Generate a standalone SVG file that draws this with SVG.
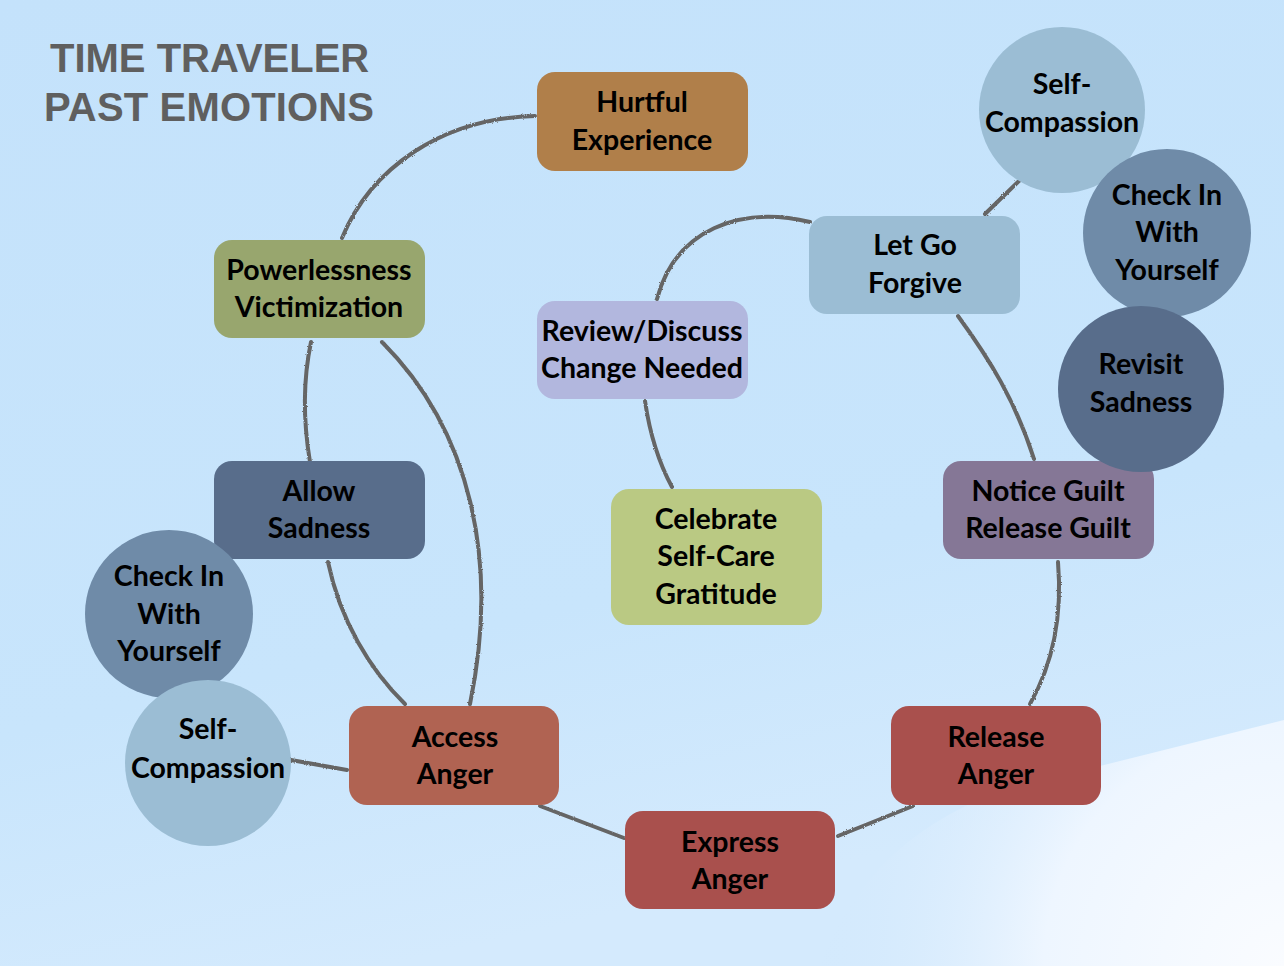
<svg xmlns="http://www.w3.org/2000/svg" width="1284" height="966" viewBox="0 0 1284 966">
<defs>
<linearGradient id="bg" x1="0" y1="0" x2="0.3" y2="1">
<stop offset="0" stop-color="#c4e2fb"/>
<stop offset="0.7" stop-color="#c8e5fc"/>
<stop offset="1" stop-color="#d4eafd"/>
</linearGradient>
<radialGradient id="glow" cx="1284" cy="966" r="480" gradientUnits="userSpaceOnUse">
<stop offset="0" stop-color="#fafcff"/>
<stop offset="0.5" stop-color="#eef6ff"/>
<stop offset="1" stop-color="#cfe7fc" stop-opacity="0"/>
</radialGradient>
<filter id="chalk" x="-10%" y="-10%" width="120%" height="120%">
<feTurbulence type="fractalNoise" baseFrequency="0.9" numOctaves="2" result="n"/>
<feDisplacementMap in="SourceGraphic" in2="n" scale="2.5"/>
</filter>
<style>
.conn path{fill:none;stroke:#656565;stroke-width:4;stroke-linecap:round}
.t{font-family:Lato,"Noto Sans","DejaVu Sans",sans-serif;font-weight:700;font-size:28.5px;fill:#000;text-anchor:middle}
.title{font-family:"Liberation Sans",Arial,sans-serif;font-weight:700;font-size:40px;fill:#5f5f5f}
</style>
</defs>
<rect width="1284" height="966" fill="url(#bg)"/>
<path d="M1100,766 L1284,720 L1284,966 L820,966 Q880,800 1100,766 Z" fill="url(#glow)"/>
<text class="title" x="50" y="72">TIME TRAVELER</text>
<text class="title" x="44" y="121" textLength="330">PAST EMOTIONS</text>
<g class="conn" filter="url(#chalk)">
<path d="M535,116 C440,118 370,170 342,238"/>
<path d="M311,342 C303,380 303,420 310,462"/>
<path d="M382,342 C470,430 500,560 470,704"/>
<path d="M328,562 C340,620 370,670 405,704"/>
<path d="M291,760 L347,770"/>
<path d="M540,806 L624,838"/>
<path d="M838,836 L913,806"/>
<path d="M1030,704 C1055,660 1062,610 1058,562"/>
<path d="M1034,459 C1015,400 990,360 958,316"/>
<path d="M810,222 C740,205 675,230 657,299"/>
<path d="M645,401 C650,435 660,465 672,487"/>
<path d="M985,214 L1020,180"/>
</g>
<g id="hurtful"><rect x="537" y="72" width="211" height="99" rx="18" fill="#b07f4a"/><text class="t" x="642" y="112">Hurtful</text><text class="t" x="642" y="150">Experience</text></g>
<g id="powerlessness"><rect x="214" y="240" width="211" height="98" rx="18" fill="#98a66e"/><text class="t" x="319" y="280">Powerlessness</text><text class="t" x="319" y="317">Victimization</text></g>
<g id="allow-sadness"><rect x="214" y="461" width="211" height="98" rx="18" fill="#586d8b"/><text class="t" x="319" y="501">Allow</text><text class="t" x="319" y="538">Sadness</text></g>
<g id="review"><rect x="537" y="301" width="211" height="98" rx="18" fill="#b2b7de"/><text class="t" x="642" y="341">Review/Discuss</text><text class="t" x="642" y="378">Change Needed</text></g>
<g id="celebrate"><rect x="611" y="489" width="211" height="136" rx="18" fill="#bac983"/><text class="t" x="716" y="529">Celebrate</text><text class="t" x="716" y="566">Self-Care</text><text class="t" x="716" y="604">Gratitude</text></g>
<g id="let-go"><rect x="809" y="216" width="211" height="98" rx="18" fill="#9bbdd4"/><text class="t" x="915" y="255">Let Go</text><text class="t" x="915" y="293">Forgive</text></g>
<g id="notice-guilt"><rect x="943" y="461" width="211" height="98" rx="18" fill="#857796"/><text class="t" x="1048" y="501">Notice Guilt</text><text class="t" x="1048" y="538">Release Guilt</text></g>
<g id="access-anger"><rect x="349" y="706" width="210" height="99" rx="18" fill="#b06352"/><text class="t" x="455" y="747">Access</text><text class="t" x="455" y="784">Anger</text></g>
<g id="express-anger"><rect x="625" y="811" width="210" height="98" rx="18" fill="#a9504d"/><text class="t" x="730" y="852">Express</text><text class="t" x="730" y="889">Anger</text></g>
<g id="release-anger"><rect x="891" y="706" width="210" height="99" rx="18" fill="#a9504d"/><text class="t" x="996" y="747">Release</text><text class="t" x="996" y="784">Anger</text></g>
<g id="self-compassion-top"><circle cx="1062" cy="110" r="83" fill="#9bbdd4"/><text class="t" x="1062" y="94">Self-</text><text class="t" x="1062" y="132">Compassion</text></g>
<g id="check-in-right"><circle cx="1167" cy="233" r="84" fill="#6f8ba8"/><text class="t" x="1167" y="205">Check In</text><text class="t" x="1167" y="242">With</text><text class="t" x="1167" y="280">Yourself</text></g>
<g id="revisit-sadness"><circle cx="1141" cy="389" r="83" fill="#586d8b"/><text class="t" x="1141" y="374">Revisit</text><text class="t" x="1141" y="412">Sadness</text></g>
<g id="check-in-left"><circle cx="169" cy="614" r="84" fill="#6f8ba8"/><text class="t" x="169" y="586">Check In</text><text class="t" x="169" y="624">With</text><text class="t" x="169" y="661">Yourself</text></g>
<g id="self-compassion-left"><circle cx="208" cy="763" r="83" fill="#9bbdd4"/><text class="t" x="208" y="739">Self-</text><text class="t" x="208" y="778">Compassion</text></g>
</svg>
